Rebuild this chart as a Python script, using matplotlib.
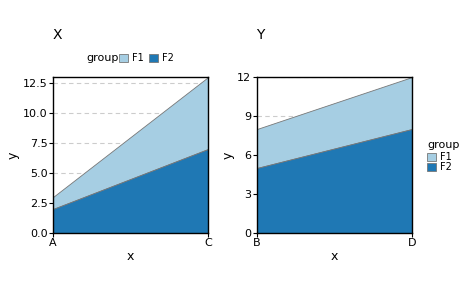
import matplotlib.pyplot as plt
from matplotlib.patches import Patch

# Data
groups = ["F1", "F2"]
colors = {"F1": "#a6cee3", "F2": "#1f78b4"}

x_left = ["A", "C"]
f1_left = [1, 6]
f2_left = [2, 7]

x_right = ["B", "D"]
f1_right = [3, 4]
f2_right = [5, 8]


def plot_panel(ax, xs, f1, f2, yticks, ylim, fmt):
    pos = list(range(len(xs)))
    top = [a + b for a, b in zip(f1, f2)]
    for yt in yticks:
        ax.axhline(yt, color="#cccccc", linestyle=(0, (4, 3)), linewidth=0.8, zorder=0)
    ax.fill_between(pos, 0, f2, color=colors["F2"], edgecolor="#777777", linewidth=0.6, zorder=2)
    ax.fill_between(pos, f2, top, color=colors["F1"], edgecolor="#777777", linewidth=0.6, zorder=1)
    ax.set_xlim(pos[0], pos[-1])
    ax.set_ylim(*ylim)
    ax.set_xticks(pos)
    ax.set_xticklabels(xs)
    ax.set_yticks(yticks)
    ax.set_yticklabels([fmt.format(v) for v in yticks])
    ax.tick_params(labelsize=8, length=3, pad=1)
    ax.set_xlabel("x", fontsize=9, labelpad=1)
    ax.set_ylabel("y", fontsize=9, labelpad=2)
    for s in ax.spines.values():
        s.set_linewidth(1.0)
        s.set_color("black")


fig = plt.figure(figsize=(4.74, 2.93), dpi=100)
ax1 = fig.add_axes([0.112, 0.205, 0.327, 0.532])
ax2 = fig.add_axes([0.542, 0.205, 0.327, 0.532])

plot_panel(ax1, x_left, f1_left, f2_left, [0, 2.5, 5, 7.5, 10, 12.5], (0, 13), "{:.1f}")
plot_panel(ax2, x_right, f1_right, f2_right, [0, 3, 6, 9, 12], (0, 12), "{:g}")

fig.text(53 / 474, 1 - 35 / 293, "X", fontsize=10, ha="left", va="center")
fig.text(256 / 474, 1 - 35 / 293, "Y", fontsize=10, ha="left", va="center")

handles = [Patch(facecolor=colors[g], edgecolor="#777777", linewidth=0.6) for g in groups]

# top legend for left panel
fig.text(86 / 474, 1 - 58 / 293, "group", fontsize=8, ha="left", va="center")
fig.legend(handles, groups, loc="center left", bbox_to_anchor=(119 / 474, 1 - 58 / 293),
           ncol=2, frameon=False, fontsize=7, handlelength=0.9, handleheight=0.9,
           handletextpad=0.4, columnspacing=0.6, borderpad=0, borderaxespad=0)

# right legend
fig.text(427 / 474, 1 - 145 / 293, "group", fontsize=8, ha="left", va="center")
fig.legend(handles, groups, loc="upper left", bbox_to_anchor=(427 / 474, 1 - 152 / 293),
           ncol=1, frameon=False, fontsize=7, handlelength=0.9, handleheight=0.9,
           handletextpad=0.4, labelspacing=0.0, borderpad=0, borderaxespad=0)

fig.savefig("out.png", dpi=100)
